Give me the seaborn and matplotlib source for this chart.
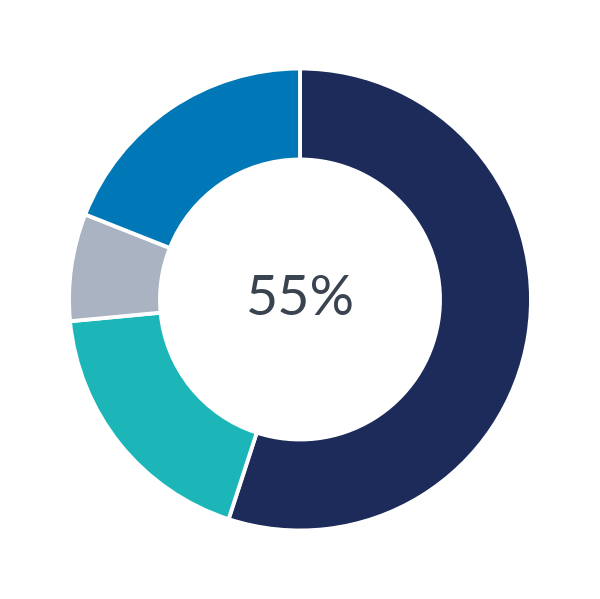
"""
Donut chart: share breakdown with 55% highlighted in the centre.
"""

import matplotlib
matplotlib.use("Agg")
import matplotlib.pyplot as plt
import seaborn as sns

sns.set_style("white")
plt.rcParams['font.family'] = ['Lato', 'DejaVu Sans']

# Data (clockwise from 12 o'clock)
segments = ['Navy', 'Teal', 'Gray', 'Blue']
shares = [55, 18.5, 7.5, 19]
colors = ['#1c2b5a', '#1cb5b8', '#a9b3c2', '#0077b6']
center_label = '55%'

fig = plt.figure(figsize=(6.0, 5.99), dpi=100)
ax = fig.add_axes([0, 0, 1, 1])

ax.pie(
    shares,
    colors=colors,
    startangle=90,
    counterclock=False,
    radius=1.0,
    wedgeprops=dict(width=0.394, edgecolor='white', linewidth=2.8),
)

ax.text(0, 0.0, center_label, ha='center', va='center',
        fontsize=40, color='#3a4350')

ax.set_xlim(-1.2987, 1.2987)
ax.set_ylim(-1.2965, 1.2965)
ax.set_aspect('equal')
ax.axis('off')

plt.savefig('out.png', dpi=100, facecolor='white')
plt.close()
